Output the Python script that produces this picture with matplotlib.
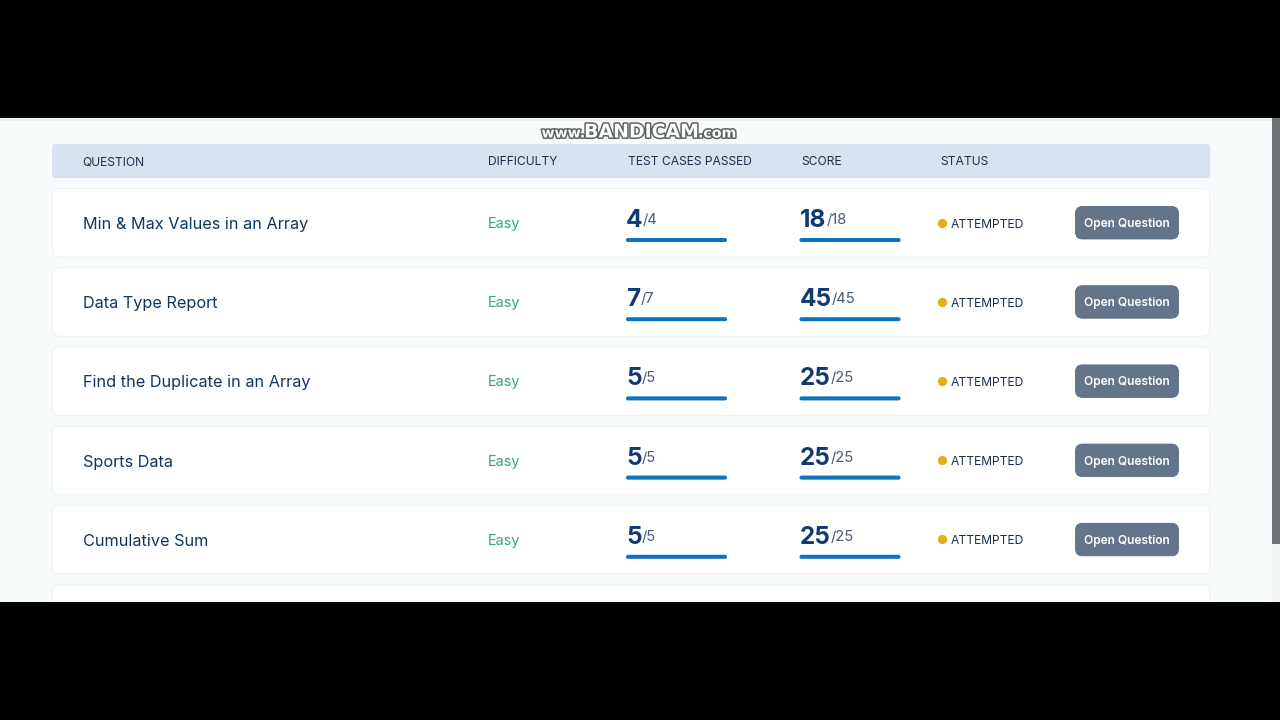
import matplotlib
matplotlib.use("Agg")
import matplotlib.pyplot as plt
import matplotlib.patches as patches
import matplotlib.patheffects as pe

plt.rcParams['font.family'] = ['Inter', 'DejaVu Sans']

# table contents
headers = ['QUESTION', 'DIFFICULTY', 'TEST CASES PASSED', 'SCORE', 'STATUS']
questions = ['Min & Max Values in an Array', 'Data Type Report', 'Find the Duplicate in an Array',
             'Sports Data', 'Cumulative Sum']
difficulty = ['Easy', 'Easy', 'Easy', 'Easy', 'Easy']
cases_passed = [4, 7, 5, 5, 5]
cases_total = [4, 7, 5, 5, 5]
scores = [18, 45, 25, 25, 25]
scores_max = [18, 45, 25, 25, 25]
status = ['ATTEMPTED', 'ATTEMPTED', 'ATTEMPTED', 'ATTEMPTED', 'ATTEMPTED']
button_label = 'Open Question'

NAVY = '#12355f'
DARK = '#1c2f4c'
BLUE = '#0f72bd'

fig = plt.figure(figsize=(12.8, 7.2), dpi=100, facecolor='black')
ax = fig.add_axes([0, 0, 1, 1])
ax.set_xlim(0, 1280)
ax.set_ylim(720, 0)
ax.set_axis_off()
renderer = fig.canvas.get_renderer()


def round_box(x, y, w, h, r, fc, ec='none', lw=0, z=1):
    box = patches.FancyBboxPatch((x + r, y + r), w - 2 * r, h - 2 * r,
                                 boxstyle=f'round,pad={r},rounding_size={r}',
                                 fc=fc, ec=ec, lw=lw, zorder=z)
    ax.add_patch(box)
    return box


def right_edge(t):
    # pixel x where a text ends, the y axis is flipped but x is plain pixels
    return ax.transData.inverted().transform(t.get_window_extent(renderer))[1][0]


# page background and scrollbar
ax.add_patch(patches.Rectangle((0, 118), 1272, 484, fc='#f8fbfc', ec='none', zorder=0))
ax.add_patch(patches.Rectangle((0, 118), 1272, 3, fc='#eceff1', ec='none', zorder=0.5))
ax.add_patch(patches.Rectangle((1272, 118), 8, 484, fc='#f1f2f2', ec='none', zorder=0))
ax.add_patch(patches.Rectangle((1272, 118), 8, 426, fc='#6e7274', ec='none', zorder=0.5))

# header row
round_box(52, 144, 1158, 34, 3, '#d9e2f0')
header_x = [82.5, 488, 627.5, 801, 940]
for x, label in zip(header_x, headers):
    ax.text(x, 165, label, fontsize=8.7, color=DARK, ha='left', va='baseline', zorder=3)

row_h = 79.2
bar_w = 101
for i, q in enumerate(questions):
    y = 223 + i * row_h
    round_box(52.5, y - 34.5, 1157, 68.5, 6, 'white', '#e9f0f5', 0.6)
    ax.text(83, y + 6, q, fontsize=11.7, color=NAVY, ha='left', va='baseline', zorder=3)
    ax.text(488, y + 5, difficulty[i], fontsize=10.4, color='#2fa87a', ha='left', va='baseline', zorder=3)

    # cases and score columns share the same number/total + bar layout
    for x0, val, tot in [(626, cases_passed[i], cases_total[i]), (799.5, scores[i], scores_max[i])]:
        t = ax.text(x0, y + 4, str(val), fontsize=17.5, fontweight='bold', color='#123a72',
                    ha='left', va='baseline', zorder=3)
        ax.text(right_edge(t) + 0.5, y + 1, f'/{tot}', fontsize=10.6, color='#4a5a6e',
                ha='left', va='baseline', zorder=3)
        round_box(x0, y + 15, bar_w, 4, 2, '#e3e9ef', z=2)
        round_box(x0, y + 15, bar_w * val / tot, 4, 2, BLUE, z=3)

    ax.scatter([941.5], [y - 0.5], s=44, color='#e2ae17', linewidths=0, zorder=3)
    ax.text(951, y + 4.5, status[i], fontsize=8.7, color=DARK, ha='left', va='baseline', zorder=3)

    round_box(1075.5, y - 16.5, 103, 32.5, 7, '#64748b', '#5a6a80', 0.6, z=2)
    ax.text(1127, y + 4, button_label, fontsize=8.6, fontweight='semibold', color='white',
            ha='center', va='baseline', zorder=3)

# next row, cut off by the bottom band
round_box(52.5, 584.5, 1157, 68.5, 6, 'white', '#e9f0f5', 0.6)

# black letterbox bands over everything
ax.add_patch(patches.Rectangle((0, 0), 1280, 118, fc='black', ec='none', zorder=5))
ax.add_patch(patches.Rectangle((0, 602), 1280, 118, fc='black', ec='none', zorder=5))

# recorder watermark
stroke = [pe.withStroke(linewidth=2.2, foreground='#5f6264')]
x = 541.5
for part, size in [('www.', 10.2), ('BANDICAM', 13.6), ('.com', 10.2)]:
    t = ax.text(x, 137.5, part, fontsize=size, fontweight='bold', color='white', family='DejaVu Sans',
                ha='left', va='baseline', zorder=6, path_effects=stroke)
    x = right_edge(t) - 1

fig.savefig('out.png', dpi=100, facecolor='black')
